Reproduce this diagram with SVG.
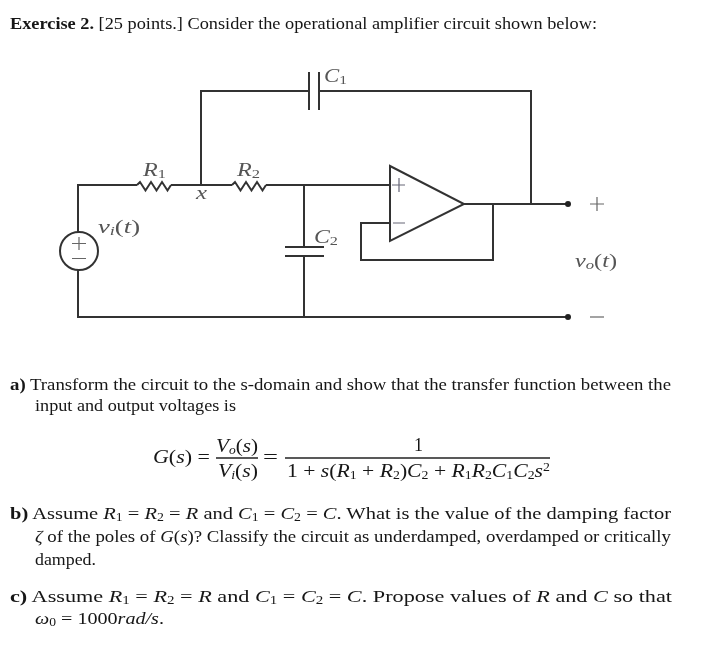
<svg xmlns="http://www.w3.org/2000/svg" width="727" height="652" viewBox="0 0 727 652">
<style>
text{font-family:"Liberation Serif","Times New Roman",serif;fill:#151515;font-size:17px}
.i{font-style:italic}
.n{font-style:normal}
.b{font-weight:bold}
.s{font-size:11.500px}
.l{fill:#555;font-size:19px}
.l .s{font-size:13px}
.m{font-size:18px}
.w{fill:none;stroke:#333;stroke-width:2}
.t{stroke:#333;stroke-width:2;fill:none}
.f{fill:#222}
.p{stroke:#666;stroke-width:1.200;fill:none}
</style>
<defs>
<filter id="soft" x="0" y="0" width="1" height="1"><feGaussianBlur stdDeviation="0.5"/></filter>
<path id="zig" d="M0 0l3-3 5.500 8.500 5.500-8.500 5.500 8.500 5.500-8.500 5.500 8.500 3.500-5.500" class="w"/>
</defs>
<rect width="727" height="652" fill="#fff"/>
<g filter="url(#soft)">
<g id="connectors">
<path class="w" d="M78 232V185H137M171 185H232M266 185H390M201 185V91H309M319 91H531V204M78 270V317H568M304 185V247M304 256V317M464 204H568M390 223H361V260H493V204"/>
</g>
<g id="source"><circle cx="79" cy="251" r="19" fill="#fff" stroke="#333" stroke-width="2"/><path class="p" d="M72 243.500H86M79 237V250M72 258.500H86"/><text x="98" y="233" class="i l" textLength="42" lengthAdjust="spacingAndGlyphs">v<tspan class="s" dy="2">i</tspan><tspan dy="-2" class="n">(</tspan>t<tspan class="n">)</tspan></text></g>
<g id="R1"><use href="#zig" x="137" y="185"/><text x="143" y="176" class="i l" textLength="23" lengthAdjust="spacingAndGlyphs">R<tspan class="s n" dy="2">1</tspan></text></g>
<g id="R2"><use href="#zig" x="232" y="185"/><text x="237" y="176" class="i l" textLength="23" lengthAdjust="spacingAndGlyphs">R<tspan class="s n" dy="2">2</tspan></text></g>
<g id="x"><text x="196" y="199" class="i l" textLength="11" lengthAdjust="spacingAndGlyphs">x</text></g>
<g id="C1"><path class="t" d="M309 72V110M319 72V110"/><text x="324" y="82" class="i l" textLength="23" lengthAdjust="spacingAndGlyphs">C<tspan class="s n" dy="2">1</tspan></text></g>
<g id="C2"><path class="t" d="M285 247H324M285 256H324"/><text x="314" y="243" class="i l" textLength="24" lengthAdjust="spacingAndGlyphs">C<tspan class="s n" dy="2">2</tspan></text></g>
<g id="opamp"><path d="M390 166V241L464 204Z" fill="none" stroke="#333" stroke-width="2"/><path d="M392 185H405M399 178V192M393 223H405" stroke="#667" stroke-width="1.200" fill="none"/></g>
<g id="out-plus"><circle cx="568" cy="204" r="3" class="f"/><path class="p" d="M590 204H604M597 197V211"/></g>
<g id="out-minus"><circle cx="568" cy="317" r="3" class="f"/><path class="p" d="M590 317H604"/></g>
<text x="575" y="267" class="i l" textLength="42" lengthAdjust="spacingAndGlyphs">v<tspan class="s" dy="2">o</tspan><tspan dy="-2" class="n">(</tspan>t<tspan class="n">)</tspan></text>

<text x="10" y="29" textLength="587" lengthAdjust="spacingAndGlyphs"><tspan class="b">Exercise 2.</tspan> [25 points.] Consider the operational amplifier circuit shown below:</text>
<text x="10" y="390" textLength="661" lengthAdjust="spacingAndGlyphs"><tspan class="b">a)</tspan> Transform the circuit to the s-domain and show that the transfer function between the</text>
<text x="35" y="411" textLength="201" lengthAdjust="spacingAndGlyphs">input and output voltages is</text>

<g id="formula">
<text x="153" y="463" class="i m" textLength="57" lengthAdjust="spacingAndGlyphs">G<tspan class="n">(</tspan>s<tspan class="n">) =</tspan></text>
<text x="216" y="452" class="i m" textLength="42" lengthAdjust="spacingAndGlyphs">V<tspan class="s" dy="2">o</tspan><tspan dy="-2" class="n">(</tspan>s<tspan class="n">)</tspan></text>
<path d="M216 458H258" stroke="#222" stroke-width="1.300"/>
<text x="218" y="477" class="i m" textLength="40" lengthAdjust="spacingAndGlyphs">V<tspan class="s" dy="2">i</tspan><tspan dy="-2" class="n">(</tspan>s<tspan class="n">)</tspan></text>
<text x="263" y="463" class="m" textLength="15" lengthAdjust="spacingAndGlyphs">=</text>
<text x="414" y="451" class="m">1</text>
<path d="M285 458H550" stroke="#222" stroke-width="1.300"/>
<text x="287" y="477" class="m" textLength="263" lengthAdjust="spacingAndGlyphs">1 + <tspan class="i">s</tspan>(<tspan class="i">R</tspan><tspan class="s" dy="2">1</tspan><tspan dy="-2"> + </tspan><tspan class="i">R</tspan><tspan class="s" dy="2">2</tspan><tspan dy="-2">)</tspan><tspan class="i">C</tspan><tspan class="s" dy="2">2</tspan><tspan dy="-2"> + </tspan><tspan class="i">R</tspan><tspan class="s" dy="2">1</tspan><tspan dy="-2" class="i">R</tspan><tspan class="s" dy="2">2</tspan><tspan dy="-2" class="i">C</tspan><tspan class="s" dy="2">1</tspan><tspan dy="-2" class="i">C</tspan><tspan class="s" dy="2">2</tspan><tspan dy="-2" class="i">s</tspan><tspan class="s" dy="-6">2</tspan></text>
</g>

<text x="10" y="519" textLength="661" lengthAdjust="spacingAndGlyphs"><tspan class="b">b)</tspan> Assume <tspan class="i">R</tspan><tspan class="s" dy="2">1</tspan><tspan dy="-2"> = </tspan><tspan class="i">R</tspan><tspan class="s" dy="2">2</tspan><tspan dy="-2"> = </tspan><tspan class="i">R</tspan> and <tspan class="i">C</tspan><tspan class="s" dy="2">1</tspan><tspan dy="-2"> = </tspan><tspan class="i">C</tspan><tspan class="s" dy="2">2</tspan><tspan dy="-2"> = </tspan><tspan class="i">C</tspan>. What is the value of the damping factor</text>
<text x="35" y="542" textLength="636" lengthAdjust="spacingAndGlyphs"><tspan class="i">ζ</tspan> of the poles of <tspan class="i">G</tspan>(<tspan class="i">s</tspan>)? Classify the circuit as underdamped, overdamped or critically</text>
<text x="35" y="565" textLength="61" lengthAdjust="spacingAndGlyphs">damped.</text>
<text x="10" y="602" textLength="662" lengthAdjust="spacingAndGlyphs"><tspan class="b">c)</tspan> Assume <tspan class="i">R</tspan><tspan class="s" dy="2">1</tspan><tspan dy="-2"> = </tspan><tspan class="i">R</tspan><tspan class="s" dy="2">2</tspan><tspan dy="-2"> = </tspan><tspan class="i">R</tspan> and <tspan class="i">C</tspan><tspan class="s" dy="2">1</tspan><tspan dy="-2"> = </tspan><tspan class="i">C</tspan><tspan class="s" dy="2">2</tspan><tspan dy="-2"> = </tspan><tspan class="i">C</tspan>. Propose values of <tspan class="i">R</tspan> and <tspan class="i">C</tspan> so that</text>
<text x="35" y="624" textLength="129" lengthAdjust="spacingAndGlyphs"><tspan class="i">ω</tspan><tspan class="s" dy="2">0</tspan><tspan dy="-2"> = 1000</tspan><tspan class="i">rad/s</tspan>.</text>
</g>
</svg>
